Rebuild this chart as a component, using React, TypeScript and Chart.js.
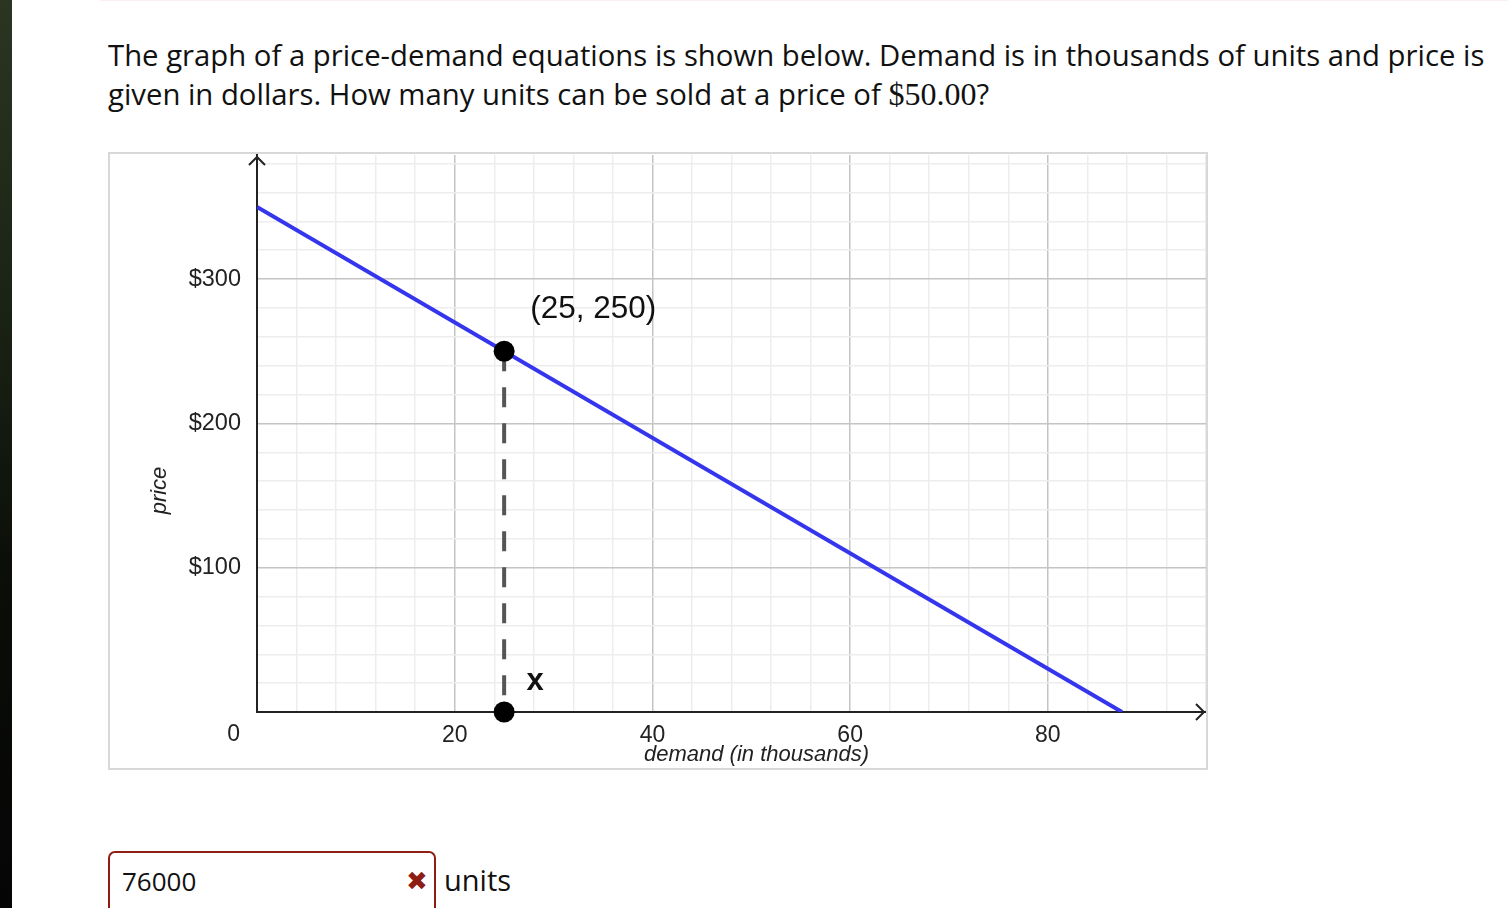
import React, { useEffect, useRef } from "react";
import { Chart, registerables } from "chart.js";

Chart.register(...registerables);

// ---- data ----
const demandLine = [
  { x: 0, y: 350 },
  { x: 87.5, y: 0 },
];
const guideLine = [
  { x: 25, y: 250 },
  { x: 25, y: 0 },
];
const markedPoints = [
  { x: 25, y: 250 },
  { x: 25, y: 0 },
];
const xMajorTicks = [20, 40, 60, 80];
const yMajorTicks = [100, 200, 300];
const xRange = [0, 96];
const yRange = [0, 386];
const xMinorStep = 4;
const yMinorStep = 20;
const pointLabel = "(25, 250)";
const guideLabel = "x";
const originLabel = "0";
const xTitle = "demand (in thousands)";
const yTitle = "price";

const SANS = "'Liberation Sans', Arial, Helvetica, sans-serif";
const OPEN = "'Open Sans', 'Noto Sans', sans-serif";

const zeroPad = () => ({ left: 0, top: 0, right: 0, bottom: 0 });

export default function App() {
  const ref = useRef<HTMLCanvasElement>(null);

  useEffect(() => {
    document.body.style.margin = "0";
    const canvas = ref.current!;

    const annotate = {
      id: "annotate",
      afterDraw(chart: any) {
        const ctx = chart.ctx as CanvasRenderingContext2D;
        const { left, right, top, bottom } = chart.chartArea;
        const xs = chart.scales.x;
        const ys = chart.scales.y;
        ctx.save();
        // axis arrows
        ctx.strokeStyle = "#222";
        ctx.lineWidth = 2;
        ctx.lineCap = "butt";
        ctx.beginPath();
        ctx.moveTo(left - 8, top + 10);
        ctx.lineTo(left, top + 2);
        ctx.lineTo(left + 8, top + 10);
        ctx.stroke();
        ctx.beginPath();
        ctx.moveTo(right - 10, bottom - 8);
        ctx.lineTo(right - 2, bottom);
        ctx.lineTo(right - 10, bottom + 8);
        ctx.stroke();

        ctx.fillStyle = "#111";
        // point label
        ctx.font = `31.5px ${SANS}`;
        ctx.textAlign = "left";
        ctx.textBaseline = "middle";
        ctx.fillText(
          pointLabel,
          xs.getPixelForValue(markedPoints[0].x) + 26,
          ys.getPixelForValue(markedPoints[0].y) - 42
        );
        // x label
        ctx.font = `bold 31px ${SANS}`;
        ctx.textAlign = "center";
        ctx.fillText(
          guideLabel,
          xs.getPixelForValue(markedPoints[1].x) + 31,
          ys.getPixelForValue(markedPoints[1].y) - 31
        );
        // origin label
        ctx.fillStyle = "#222";
        ctx.font = `23px ${SANS}`;
        ctx.textAlign = "right";
        ctx.fillText(originLabel, left - 17, bottom + 23);
        // axis titles
        ctx.font = `italic 22px ${SANS}`;
        ctx.textAlign = "center";
        ctx.fillText(xTitle, (left + right) / 2 + 25, bottom + 43);
        ctx.translate(left - 97, (top + bottom) / 2 + 57);
        ctx.rotate(-Math.PI / 2);
        ctx.fillText(yTitle, 0, 0);
        ctx.restore();
      },
    };

    const chart = new Chart(canvas, {
      type: "scatter",
      data: {
        datasets: [
          {
            type: "line",
            data: demandLine,
            borderColor: "#3535ee",
            borderWidth: 4,
            pointRadius: 0,
            fill: false,
            tension: 0,
            order: 3,
          } as any,
          {
            type: "line",
            data: guideLine,
            borderColor: "#555555",
            borderWidth: 4,
            borderDash: [20, 16],
            pointRadius: 0,
            fill: false,
            order: 2,
          } as any,
          {
            type: "scatter",
            data: markedPoints,
            pointRadius: 10.5,
            pointBackgroundColor: "#000",
            pointBorderWidth: 0,
            clip: false,
            order: 1,
          } as any,
        ],
      },
      options: {
        animation: false,
        responsive: false,
        devicePixelRatio: 1,
        events: [],
        layout: { autoPadding: false, padding: { top: 1, left: 0, right: 0, bottom: 0 } },
        plugins: { legend: { display: false }, tooltip: { enabled: false } },
        scales: {
          x: {
            type: "linear",
            min: xRange[0],
            max: xRange[1],
            ticks: {
              stepSize: xMinorStep,
              includeBounds: false,
              autoSkip: false,
              maxRotation: 0,
              padding: 10,
              color: "#222",
              font: { family: SANS, size: 23 },
              callback: (v: any) => (xMajorTicks.includes(Number(v)) ? String(v) : ""),
            },
            grid: {
              drawTicks: false,
              lineWidth: 1.5,
              color: (c: any) =>
                c.tick && c.tick.value % 20 === 0 ? "#c4c4c4" : "#ededed",
            },
            border: { color: "#222", width: 2 },
            afterFit: (s: any) => {
              s.height = 56;
              s.paddingLeft = 0;
              s.paddingRight = 0;
              s.paddingTop = 0;
              s.paddingBottom = 0;
              s.getPadding = zeroPad;
            },
          },
          y: {
            type: "linear",
            min: yRange[0],
            max: yRange[1],
            ticks: {
              stepSize: yMinorStep,
              includeBounds: false,
              autoSkip: false,
              padding: 16,
              color: "#222",
              font: { family: SANS, size: 23.5 },
              callback: (v: any) => (yMajorTicks.includes(Number(v)) ? "$" + v : ""),
            },
            grid: {
              drawTicks: false,
              lineWidth: 1.5,
              color: (c: any) =>
                c.tick && c.tick.value % 100 === 0 ? "#c4c4c4" : "#ededed",
            },
            border: { color: "#222", width: 2 },
            afterFit: (s: any) => {
              s.width = 147;
              s.paddingLeft = 0;
              s.paddingRight = 0;
              s.paddingTop = 0;
              s.paddingBottom = 0;
              s.getPadding = zeroPad;
            },
          },
        },
      } as any,
      plugins: [annotate],
    });
    return () => chart.destroy();
  }, []);

  return (
    <div
      style={{
        position: "fixed",
        left: 0,
        top: 0,
        width: 1508,
        height: 908,
        overflow: "hidden",
        background: "#fff",
      }}
    >
      <div
        style={{
          position: "absolute",
          left: 0,
          top: 0,
          width: 12,
          height: 908,
          background: "linear-gradient(to bottom, #2c3522, #1a2214 35%, #0a0d08 65%, #050505)",
        }}
      />
      <div
        style={{
          position: "absolute",
          left: 100,
          top: 0,
          width: 1408,
          height: 1,
          background: "#fbefef",
        }}
      />
      <div
        style={{
          position: "absolute",
          left: 108,
          top: 36,
          fontFamily: OPEN,
          fontSize: 29.3,
          lineHeight: "39px",
          color: "#111",
          whiteSpace: "nowrap",
        }}
      >
        The graph of a price-demand equations is shown below. Demand is in thousands of units and price is
        <br />
        given in dollars. How many units can be sold at a price of{" "}
        <span style={{ fontFamily: "'Liberation Serif', 'DejaVu Serif', serif", fontSize: 32 }}>$50.00</span>?
      </div>
      <div
        style={{
          position: "absolute",
          left: 108,
          top: 152,
          width: 1100,
          height: 618,
          boxSizing: "border-box",
          border: "2px solid #d8d8d8",
        }}
      >
        <canvas ref={ref} width={1096} height={614} style={{ display: "block", width: 1096, height: 614 }} />
      </div>
      <div
        style={{
          position: "absolute",
          left: 108,
          top: 851,
          width: 328,
          height: 80,
          boxSizing: "border-box",
          border: "2px solid #8e1d14",
          borderRadius: 7,
        }}
      >
        <span
          style={{
            position: "absolute",
            left: 12,
            top: 10,
            fontFamily: OPEN,
            fontSize: 26,
            lineHeight: "36px",
            color: "#111",
          }}
        >
          76000
        </span>
        <span
          style={{
            position: "absolute",
            left: 296,
            top: 12,
            fontFamily: "'DejaVu Sans', sans-serif",
            fontSize: 26,
            lineHeight: "32px",
            color: "#8e1d14",
            fontWeight: "bold",
          }}
        >
          ✖
        </span>
      </div>
      <div
        style={{
          position: "absolute",
          left: 444,
          top: 860,
          fontFamily: OPEN,
          fontSize: 29,
          lineHeight: "39px",
          color: "#111",
        }}
      >
        units
      </div>
    </div>
  );
}
